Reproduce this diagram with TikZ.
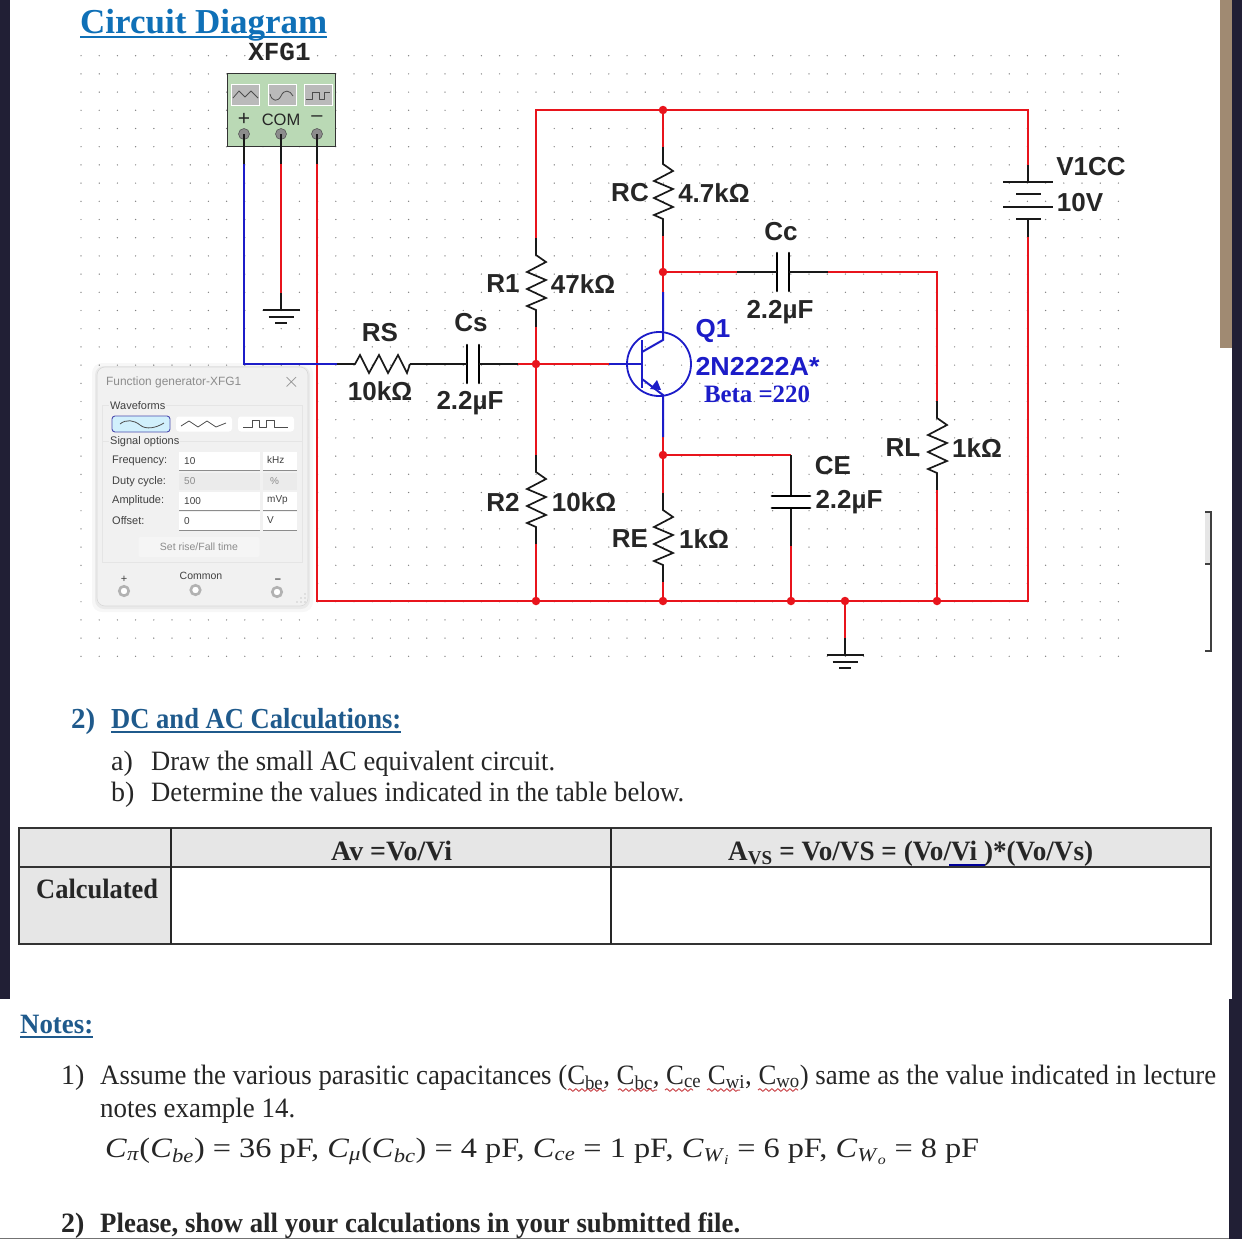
\documentclass[tikz,border=0pt]{standalone}
\usepackage{graphicx}
\usepackage{fontspec}
\setmainfont{Liberation Serif}
\newfontfamily\arl{Liberation Sans}
\newfontfamily\mon{Liberation Mono}
\usetikzlibrary{decorations.pathmorphing,arrows.meta}
\definecolor{wr}{HTML}{E8141C}
\definecolor{wb}{HTML}{1C1CC8}
\definecolor{ttl}{HTML}{0F70B7}
\definecolor{hdr}{HTML}{1F5A8C}
\definecolor{txt}{HTML}{262626}
\definecolor{barc}{HTML}{211F35}
\definecolor{brn}{HTML}{A08A72}
\definecolor{cellc}{HTML}{E6E6E6}
\definecolor{fgc}{HTML}{BAD9B5}
\definecolor{winc}{HTML}{F1F1F1}
\definecolor{wgr}{HTML}{8C8C8C}
\newcommand\fs[1]{\fontsize{#1}{#1}\selectfont}
\newcommand\fitw[2]{\resizebox{#1pt}{\height}{#2}}
\newcommand\sbs[1]{\textsubscript{#1}}
\tikzset{
  wirer/.style={draw=wr,line width=2pt,line join=miter},
  wireb/.style={draw=wb,line width=2pt},
  wirek/.style={draw=black!90,line width=2pt},
  plate/.style={draw=black,line width=2.2pt,line cap=round},
  junc/.style={circle,fill=wr,draw=none,inner sep=0pt,minimum size=8.5pt},
  clab/.style={inner sep=0pt,font=\arl\bfseries\fs{26},text=black!85},
  blab/.style={inner sep=0pt,font=\arl\bfseries\fs{26},text=wb},
  doc/.style={inner sep=0pt,anchor=base west,text=txt,font=\fs{28}},
  docb/.style={inner sep=0pt,anchor=base west,text=txt,font=\bfseries\fs{28}},
  doch/.style={inner sep=0pt,anchor=base west,text=hdr,font=\bfseries\fs{29}},
  winl/.style={inner sep=0pt,anchor=west,text=black!75,font=\arl\fs{11}},
  fldln/.style={draw=black!45,line width=0.9pt},
  ring/.style={circle,draw=black!30,fill=white,line width=2.6pt,inner sep=0pt,minimum size=9.5pt},
  squig/.style={draw=wr!80!black,line width=1pt,opacity=.75,decorate,decoration={snake,amplitude=1.3pt,segment length=6pt}},
  wavep/.style={draw=black!70,line width=.8pt,line join=round},
  vres/.pic={
    \coordinate (-a) at (0,-17); \coordinate (-b) at (0,72);
    \draw[wirek,line width=1.7pt,line join=miter] (-a) -- (0,0) -- (10,7) -- (-9,17) -- (10,25) -- (-9,34) -- (10,43) -- (-9,51) -- (0,55) -- (-b);
  },
  hres/.pic={
    \coordinate (-a) at (-18,0); \coordinate (-b) at (55,0);
    \draw[wirek,line width=1.7pt,line join=miter] (-a) -- (0,0) -- (5,-9) -- (14,9) -- (24,-9) -- (33,9) -- (43,-9) -- (52,9) -- (-b);
  },
  hcap/.pic={
    \coordinate (-l) at (-6,0); \coordinate (-r) at (6,0);
    \draw[plate,line width=2.6pt] (-6,-19) -- (-6,19);
    \draw[plate,line width=2.6pt] (6,-19) -- (6,19);
  },
  gnd/.pic={
    \coordinate (-a) at (0,-17);
    \draw[wirek] (-a) -- (0,0);
    \draw[wirek] (-18.5,0) -- (18.5,0);
    \draw[wirek] (-12.5,6.5) -- (12.5,6.5);
    \draw[wirek] (-6,12.5) -- (6,12.5);
  }
}
\begin{document}
\begin{tikzpicture}[x=1pt,y=-1pt]
\useasboundingbox (0,0) rectangle (1242,1239);
\fill[white] (0,0) rectangle (1242,1239);
% page edges
\fill[barc] (0,0) rectangle (10,999);
\fill[barc] (1232,0) rectangle (1242,999);
\fill[barc] (1229,999) rectangle (1242,1239);
\fill[brn] (1220,0) rectangle (1232,348);
\fill[black!55] (0,1237.6) rectangle (1229,1239);
% bracket at right
\fill[cellc] (1205,512) rectangle (1210,564);
\draw[black!75,line width=1.6pt] (1205,512) -- (1211,512) -- (1211,651) -- (1205,651);
\draw[black!75,line width=1.6pt] (1205,564) -- (1211,564);
% grid
\fill[black!50] foreach \i in {0,...,57} { foreach \j in {0,...,33} { ({81+18.2*\i},{55.7+18.2*\j}) circle (0.7) } };
% title
\node[inner sep=0pt,anchor=base west,text=ttl,font=\bfseries\fs{35}] (title) at (80,34) {\fitw{247}{Circuit Diagram}};
\draw[ttl,line width=1.5pt] (title.base west)++(0,3) -- ++(247,0);
\node[inner sep=0pt,font=\mon\bfseries\fs{26},text=black!85] (xfgname) at (279.5,52) {XFG1};
% function generator instrument
\node[draw=black!80,line width=1pt,fill=fgc,minimum width=108pt,minimum height=72pt,inner sep=0pt] (xfg) at (281,110) {};
\foreach \xa/\n in {231/a,268/b,304/c}{
  \node[fill=black!27,draw=white,line width=1pt,minimum width=28pt,minimum height=21pt,inner sep=0pt,anchor=north west] (btn\n) at (\xa,84) {};
}
\draw[wavep] (233,98) -- (239,91) -- (245,97) -- (251,91) -- (258,98);
\draw[wavep] (270,94) .. controls (272,102) and (278,102) .. (281,96) .. controls (284,89) and (290,90) .. (293,96);
\draw[wavep] (306,99) -- (312,99) -- (312,92) -- (319,92) -- (319,99) -- (324,99) -- (324,92) -- (330,92);
\node[inner sep=0pt,font=\arl\fs{21},text=black!85] (plusx) at (244,119) {+};
\node[inner sep=0pt,font=\arl\fs{16.5},text=black!85] (comx) at (281,120) {COM};
\node[inner sep=0pt,font=\arl\fs{20},text=black!85] (minx) at (317,119) {\textendash};
\foreach \xa/\n in {244/a,281/b,317/c}{
  \node[circle,fill=black!45,draw=black!65,line width=.6pt,minimum size=11pt,inner sep=0pt] (term\n) at (\xa,134) {};
  \coordinate (lead\n) at (\xa,164);
  \draw[wirek] (term\n.center) -- (lead\n);
}
% ground for COM
\pic (gc) at (281,310) {gnd};
% window
\fill[black,opacity=.03,rounded corners=10pt] (92,363) rectangle (313,612);
\fill[black,opacity=.05,rounded corners=9pt] (95,366) rectangle (310,609);
\node[fill=winc,draw=black!15,line width=.6pt,rounded corners=8pt,minimum width=211pt,minimum height=239pt,inner sep=0pt] (win) at (202.5,486.5) {};
\node[inner sep=0pt,anchor=west,text=wgr,font=\arl\fs{12}] (wtitle) at (106,382) {\fitw{135}{Function generator-XFG1}};
\node[inner sep=0pt,text=wgr,font=\arl\fs{20}] (wclose) at (291.5,382) {$\times$};
\draw[black!10,line width=.7pt] (102,405) -- (102,562) -- (302,562) -- (302,405) -- cycle;
\draw[black!10,line width=.7pt] (102,441) -- (302,441);
\node[winl,fill=winc,inner xsep=1pt] (wwave) at (109,406) {Waveforms};
\node[winl,fill=winc,inner xsep=1pt] (wsig) at (109,442) {Signal options};
\node[fill=cyan!18,draw=blue!55!black!70,line width=.9pt,rounded corners=3pt,minimum width=58pt,minimum height=16pt,inner sep=0pt] (wb1) at (141,424) {};
\node[fill=white,rounded corners=3pt,minimum width=56pt,minimum height=15pt,inner sep=0pt] (wb2) at (204,424) {};
\node[fill=white,rounded corners=3pt,minimum width=56pt,minimum height=15pt,inner sep=0pt] (wb3) at (266,424) {};
\draw[wavep] (120,424) .. controls (126,419) and (134,420) .. (140,425) .. controls (146,430) and (156,428) .. (164,423);
\draw[wavep] (181,426) -- (189,421) -- (198,427) -- (207,421) -- (216,427) -- (226,423);
\draw[wavep] (243,427) -- (252,427) -- (252,420) -- (259,420) -- (259,427) -- (266,427) -- (266,420) -- (274,420) -- (274,427) -- (288,427);
\foreach \yy/\lab/\val/\un/\nn in {461/Frequency:/10/kHz/a,501/Amplitude:/100/mVp/c,521/Offset:/0/V/d}{
  \fill[white] (179,\yy-9) rectangle (260,\yy+9);
  \fill[white] (263,\yy-9) rectangle (297,\yy+9);
  \draw[fldln] (179,\yy+9) -- (260,\yy+9);
  \draw[fldln] (263,\yy+9) -- (297,\yy+9);
  \node[winl] (lb\nn) at (112,\yy) {\lab};
  \node[winl,font=\arl\fs{10}] (vl\nn) at (184,\yy+.5) {\val};
  \node[winl,font=\arl\fs{10}] (un\nn) at (267,\yy-1) {\un};
}
\fill[black!8] (179,473) rectangle (260,490);
\fill[black!8] (263,473) rectangle (297,490);
\node[winl] (lbb) at (112,481.5) {Duty cycle:};
\node[winl,text=wgr,font=\arl\fs{10}] (vlb) at (184,481.5) {50};
\node[winl,text=wgr,font=\arl\fs{10}] (unb) at (270,481) {\%};
\node[fill=black!4,rounded corners=2pt,minimum width=121pt,minimum height=20pt,inner sep=0pt,text=wgr,font=\arl\fs{10.5}] (wrise) at (199,547) {Set rise/Fall time};
\node[inner sep=0pt,font=\arl\fs{11},text=black!75] (wplus) at (124,579) {+};
\node[inner sep=0pt,font=\arl\fs{10.5},text=black!75] (wcom) at (201,576) {Common};
\node[inner sep=0pt,font=\arl\bfseries\fs{11},text=black!75] (wminus) at (278,581) {\textendash};
\node[ring] (ringa) at (124,591) {};
\node[ring] (ringb) at (195.5,590) {};
\node[ring] (ringc) at (277,592) {};
\fill[black!35] (305,594) circle(.7) (301,598) circle(.7) (305,598) circle(.7) (297,602) circle(.7) (301,602) circle(.7) (305,602) circle(.7);
% circuit points
\node[junc] (jt) at (663,110) {};
\node[junc] (jc) at (663,272) {};
\node[junc] (jb) at (536,364) {};
\node[junc] (je) at (663,455) {};
\node[junc] (g1) at (536,601) {};
\node[junc] (g2) at (663,601) {};
\node[junc] (g3) at (791,601) {};
\node[junc] (g4) at (845,601) {};
\node[junc] (g5) at (937,601) {};
\coordinate (tl) at (536,110);
\coordinate (tr) at (1028,110);
\coordinate (br) at (1028,601);
\coordinate (bl) at (317,601);
\pic (R1) at (536,255) {vres};
\pic (R2) at (536,472) {vres};
\pic (RC) at (663,164) {vres};
\pic (RE) at (663,510) {vres};
\pic (RL) at (937,418) {vres};
\pic (RS) at (355,364) {hres};
\pic (Cs) at (473,364) {hcap};
\pic (Cc) at (783,272) {hcap};
\pic (ge) at (845,655) {gnd};
% red wires
\draw[wirer] (R1-a) -- (tl) -- (tr) -- (1028,165);
\draw[wirer] (jt.center) -- (RC-a);
\draw[wirer] (RC-b) -- (jc.center) -- (663,292);
\draw[wirer] (jc.center) -- (737,272);
\draw[wirer] (828,272) -- (937,272) -- (RL-a);
\draw[wirer] (R1-b) -- (jb.center) -- (R2-a);
\draw[wirer] (R2-b) -- (g1.center);
\draw[wirer] (518,364) -- (jb.center) -- (609,364);
\draw[wirer] (RE-b) -- (g2.center);
\draw[wirer] (663,437) -- (je.center) -- (RE-a);
\draw[wirer] (je.center) -- (791,455);
\draw[wirer] (791,546) -- (g3.center);
\draw[wirer] (g4.center) -- (ge-a);
\draw[wirer] (RL-b) -- (g5.center);
\draw[wirer] (1028,237) -- (br) -- (bl) -- (leadc);
\draw[wirer] (leadb) -- (gc-a);
% blue wires
\draw[wireb] (leada) -- (244,364) -- (RS-a);
% black leads
\draw[wirek] (RS-b) -- (Cs-l);
\draw[wirek] (Cs-r) -- (518,364);
\draw[wirek] (737,272) -- (Cc-l);
\draw[wirek] (Cc-r) -- (828,272);
\draw[wirek] (791,455) -- (791,496);
\draw[wirek] (791,508) -- (791,546);
\draw[plate,line width=2.8pt] (772,496) -- (810,496);
\draw[plate,line width=2.8pt] (772,508) -- (810,508);
% battery
\draw[wirek] (1028,165) -- (1028,182);
\draw[wirek] (1003,182) -- (1053,182);
\draw[wirek] (1016,194) -- (1041,194);
\draw[wirek] (1003,206.5) -- (1053,206.5);
\draw[wirek,line width=2.6pt] (1016,219) -- (1041,219);
\draw[wirek] (1028,219) -- (1028,237);
% transistor
\node[circle,draw=wb,line width=1.8pt,minimum size=64pt,inner sep=0pt] (Q) at (659,364) {};
\draw[wireb] (609,364) -- (642,364);
\draw[wireb,line width=2.2pt] (642,340) -- (642,388);
\draw[wireb] (663,292) -- (663,340) -- (642,352);
\draw[wireb] (642,379) -- (663,395) -- (663,437);
\fill[wb] (650,389) -- (661,390) -- (657,380) -- cycle;
% circuit labels
\node[clab] (tRC) at (630,193) {RC};
\node[clab] (vRC) at (714,193) {4.7kΩ};
\node[clab] (tCc) at (781,232) {Cc};
\node[clab] (vCc) at (780,312) {2.2µF};
\node[blab] (tQ) at (713,331) {Q1};
\node[blab] (vQ) at (757.5,366) {\fitw{124}{2N2222A*}};
\node[inner sep=0pt,font=\bfseries\fs{25},text=wb] (bQ) at (757,394) {\fitw{106}{Beta =220}};
\node[clab] (tR1) at (503,284) {R1};
\node[clab] (vR1) at (583,284) {47kΩ};
\node[clab] (tRS) at (380,333) {RS};
\node[clab] (vRS) at (380,391) {10kΩ};
\node[clab] (tCs) at (471,323) {Cs};
\node[clab] (vCs) at (470,403) {2.2µF};
\node[clab] (tR2) at (503,502) {R2};
\node[clab] (vR2) at (584,502) {10kΩ};
\node[clab] (tRE) at (630,539) {RE};
\node[clab] (vRE) at (704,539) {1kΩ};
\node[clab] (tCE) at (833,466) {CE};
\node[clab] (vCE) at (849,502) {2.2µF};
\node[clab] (tRL) at (903,448) {RL};
\node[clab] (vRL) at (977,448) {1kΩ};
\node[clab] (tV) at (1091,167) {V1CC};
\node[clab] (vV) at (1080,203) {10V};
% section 2
\node[doch] (s2n) at (71,728) {2)};
\node[doch] (s2) at (111,728) {\fitw{290}{DC and AC Calculations:}};
\draw[hdr,line width=1.3pt] (111,732) -- (401,732);
\node[doc] (ia) at (111,770) {a)};
\node[doc] (iat) at (151,770) {\fitw{404}{Draw the small AC equivalent circuit.}};
\node[doc] (ib) at (111,801) {b)};
\node[doc] (ibt) at (151,801) {\fitw{533}{Determine the values indicated in the table below.}};
% table
\fill[cellc] (19,828) rectangle (1211,867);
\fill[cellc] (19,867) rectangle (171,944);
\draw[black!80,line width=2pt] (19,828) rectangle (1211,944);
\draw[black!80,line width=2pt] (19,867) -- (1211,867);
\draw[black!85,line width=1.6pt] (171,828) -- (171,944);
\draw[black!85,line width=1.6pt] (611,828) -- (611,944);
\node[docb] (tav) at (331,860) {\fitw{121}{Av =Vo/Vi}};
\node[docb] (tavs) at (728,860) {\fitw{365}{A\sbs{VS} = Vo/VS = (Vo/Vi )*(Vo/Vs)}};
\draw[blue!60!black,line width=1.2pt] (949,865) -- (985,865);
\node[docb] (tcal) at (36,898) {\fitw{122}{Calculated}};
% notes
\node[doch,font=\bfseries\fs{28}] (nt) at (20,1033) {\fitw{73}{Notes:}};
\draw[hdr,line width=1.3pt] (20,1037) -- (93,1037);
\node[doc] (n1) at (61,1084) {1)};
\node[doc] (n1t) at (100,1084) {\fitw{1116}{Assume the various parasitic capacitances (C\sbs{be}, C\sbs{bc}, C\sbs{ce} C\sbs{wi}, C\sbs{wo}) same as the value indicated in lecture}};
\draw[squig] (568,1090) -- (606,1090);
\draw[squig] (618,1090) -- (657,1090);
\draw[squig] (665,1090) -- (693,1090);
\draw[squig] (707,1090) -- (740,1090);
\draw[squig] (758,1090) -- (798,1090);
\node[doc] (n1u) at (100,1117) {\fitw{195}{notes example 14.}};
\node[doc] (n1f) at (105,1157) {\fitw{874}{\textit{C}\sbs{\textit{π}}(\textit{C}\sbs{\textit{be}}) = 36 pF, \textit{C}\sbs{\textit{μ}}(\textit{C}\sbs{\textit{bc}}) = 4 pF, \textit{C}\sbs{\textit{ce}} = 1 pF, \textit{C}\sbs{\textit{W}\raisebox{-.35ex}{\scalebox{.7}{\textit{i}}}} = 6 pF, \textit{C}\sbs{\textit{W}\raisebox{-.35ex}{\scalebox{.7}{\textit{o}}}} = 8 pF}};
\node[docb] (n2) at (61,1232) {2)};
\node[docb] (n2t) at (100,1232) {\fitw{640}{Please, show all your calculations in your submitted file.}};
\end{tikzpicture}
\end{document}
